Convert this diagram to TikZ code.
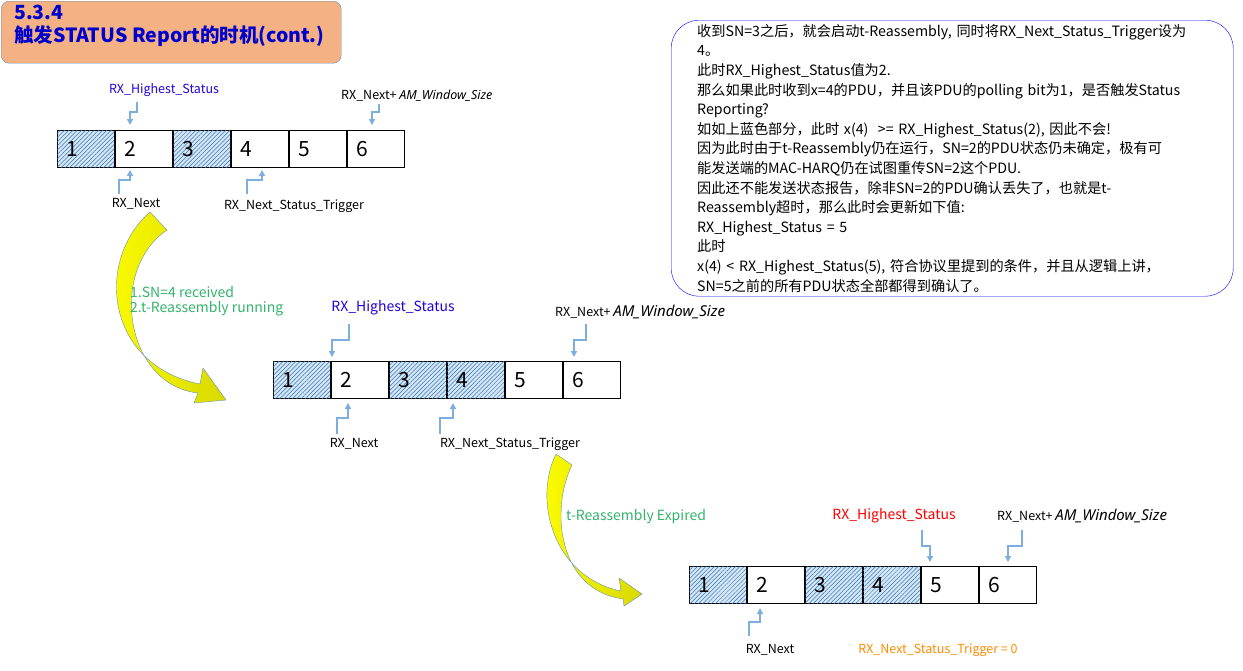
\documentclass[tikz,border=0pt]{standalone}
\usepackage{fontspec}
\setmainfont{Noto Sans CJK SC}
\newfontfamily\lat{Noto Sans}
\usetikzlibrary{patterns.meta,arrows.meta}
\definecolor{lb}{HTML}{5B9BD5}
\definecolor{tgreen}{HTML}{33B36B}
\definecolor{orangebg}{HTML}{F4B183}
\definecolor{hatch}{HTML}{2E75B6}
\tikzset{
 cell/.style={draw=black,line width=0.9pt,minimum width=57pt,minimum height=37pt,inner sep=0pt,anchor=north west,font=\fontsize{21}{21}\selectfont,text width=45pt,align=left},
 hcell/.style={cell,fill=lb!25,postaction={pattern={Lines[angle=45,distance=3pt,line width=0.5pt]},pattern color=hatch}},
 lbl/.style={font=\fontsize{12.5}{14}\selectfont,inner sep=1pt},
 ptr/.style={draw=lb!80,line width=1.4pt,-{Triangle[length=6pt,width=6pt]}},
 yarrow/.style={left color=yellow,right color=yellow!70!olive,draw=lb!60!gray,line width=0.4pt}
}
\begin{document}
\begin{tikzpicture}[x=1pt,y=-1pt]
\useasboundingbox (0,0) rectangle (1243,670);
% title
\node[draw=lb!60!gray,fill=orangebg,rounded corners=8pt,minimum width=340pt,minimum height=62pt,anchor=north west,inner sep=0] (title) at (1,1) {};
\node[anchor=north west,text=blue!80!black,font=\bfseries\fontsize{19.5}{23}\selectfont,align=left,inner sep=0] (tt) at (14,5) {5.3.4\\触发STATUS Report的时机(cont.)};
% note box
\node[draw=blue,rounded corners=28pt,minimum width=562pt,minimum height=276pt,anchor=north west,inner sep=0] (note) at (671,20) {};
\node[anchor=north west,font=\fontsize{14.2}{19.6}\selectfont,align=left,inner sep=0,text width=540pt] (nt) at (697,24) {收到SN=3之后，就会启动t-Reassembly, 同时将RX\_Next\_Status\_Trigger设为\\4。\\此时RX\_Highest\_Status值为2.\\那么如果此时收到x=4的PDU，并且该PDU的polling bit为1，是否触发Status\\Reporting?\\如如上蓝色部分，此时 x(4)\ \ >= RX\_Highest\_Status(2), 因此不会!\\因为此时由于t-Reassembly仍在运行，SN=2的PDU状态仍未确定，极有可\\能发送端的MAC-HARQ仍在试图重传SN=2这个PDU.\\因此还不能发送状态报告，除非SN=2的PDU确认丢失了，也就是t-\\Reassembly超时，那么此时会更新如下值:\\RX\_Highest\_Status = 5\\此时\\x(4) < RX\_Highest\_Status(5), 符合协议里提到的条件，并且从逻辑上讲，\\SN=5之前的所有PDU状态全部都得到确认了。};
% row 1
\node[hcell] (a1) at (57,130) {\,1};
\node[cell] (a2) at (a1.north east) {\,2};
\node[hcell] (a3) at (a2.north east) {\,3};
\node[cell] (a4) at (a3.north east) {\,4};
\node[cell] (a5) at (a4.north east) {\,5};
\node[cell] (a6) at (a5.north east) {\,6};
\node[lbl,text=blue!70!violet] (a_hs) at (164,90) {RX\_Highest\_Status};
\node[lbl,anchor=west] (a_win) at (340,96) {RX\_Next+ {\lat\itshape AM\_Window\_Size}};
\node[lbl] (a_nx) at (136,204) {RX\_Next};
\node[lbl] (a_tr) at (294,206) {RX\_Next\_Status\_Trigger};
\draw[ptr] (137,102) |- (130,112) -- (130,125);
\draw[ptr] (379,104) |- (372,112) -- (372,125);
\draw[ptr] (119,194) |- (130,180) -- (130,170);
\draw[ptr] (247,194) |- (262,180) -- (262,170);
% row 2
\node[hcell] (b1) at (273,361) {\,1};
\node[cell] (b2) at (b1.north east) {\,2};
\node[hcell] (b3) at (b2.north east) {\,3};
\node[hcell] (b4) at (b3.north east) {\,4};
\node[cell] (b5) at (b4.north east) {\,5};
\node[cell] (b6) at (b5.north east) {\,6};
\node[lbl,text=blue!70!violet,font=\fontsize{14}{16}\selectfont] (b_hs) at (393,308) {RX\_Highest\_Status};
\node[lbl,anchor=west] (b_win) at (554,312) {RX\_Next+ {\lat\itshape\fontsize{15}{17}\selectfont AM\_Window\_Size}};
\node[lbl] (b_nx) at (354,444) {RX\_Next};
\node[lbl] (b_tr) at (510,444) {RX\_Next\_Status\_Trigger};
\draw[ptr] (349,324) |- (332,340) -- (332,357) ;
\draw[ptr] (586,324) |- (574,340) -- (574,357);
\draw[ptr] (337,434) |- (348,418) -- (348,403);
\draw[ptr] (440,434) |- (453,418) -- (453,403);
% arrow 1
\draw[yarrow] (150,212) .. controls (95,260) and (105,365) .. (200,384) -- (203,368) -- (226,400) -- (194,403) -- (198,393)
 .. controls (125,385) and (108,270) .. (167,230) -- cycle;
\node[anchor=north west,text=tgreen,font=\fontsize{14}{15}\selectfont,align=left,inner sep=0] (t1) at (130,286) {1.SN=4 received\\2.t-Reassembly running};
% row 3
\node[hcell] (c1) at (689,566) {\,1};
\node[cell] (c2) at (c1.north east) {\,2};
\node[hcell] (c3) at (c2.north east) {\,3};
\node[hcell] (c4) at (c3.north east) {\,4};
\node[cell] (c5) at (c4.north east) {\,5};
\node[cell] (c6) at (c5.north east) {\,6};
\node[lbl,text=red,font=\fontsize{14}{16}\selectfont] (c_hs) at (894,516) {RX\_Highest\_Status};
\node[lbl,anchor=west] (c_win) at (996,516) {RX\_Next+ {\lat\itshape\fontsize{15}{17}\selectfont AM\_Window\_Size}};
\node[lbl] (c_nx) at (770,650) {RX\_Next};
\node[lbl,text=orange!90!yellow] (c_tr) at (938,650) {RX\_Next\_Status\_Trigger = 0};
\draw[ptr] (922,530) -- (922,546) -- (930,546) -- (930,562);
\draw[ptr] (1022,530) |- (1008,546) -- (1008,562);
\draw[ptr] (749,636) |- (760,622) -- (760,608);
% arrow 2
\draw[yarrow] (556,454) .. controls (533,500) and (553,577) .. (621,591) -- (619,578) -- (642,594) -- (624,606) -- (623,599)
 .. controls (558,590) and (550,510) .. (572,465) -- cycle;
\node[anchor=west,text=tgreen,font=\fontsize{14}{16}\selectfont,inner sep=0] (t2) at (566,517) {t-Reassembly Expired};
\end{tikzpicture}
\end{document}
